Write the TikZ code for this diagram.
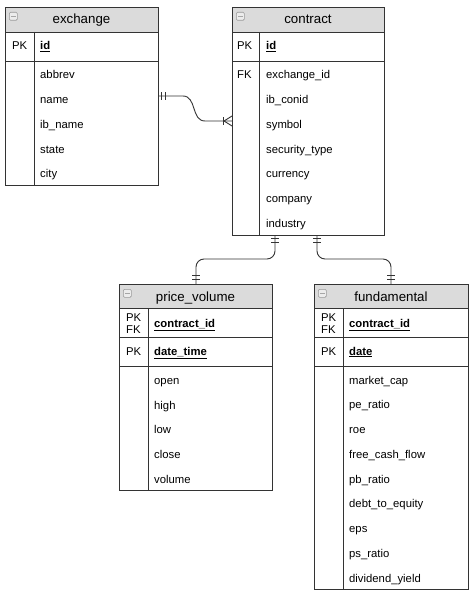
\documentclass[tikz,border=0pt]{standalone}
\usepackage{fontspec}
\setmainfont{Liberation Sans}
\newcommand{\fieldfont}{\fontsize{11.3}{13}\selectfont}
\newcommand{\titlefont}{\fontsize{13.3}{15}\selectfont}
\newcommand{\keyname}[1]{\textbf{\underline{#1}}}
\begin{document}
\begin{tikzpicture}[x=1pt,y=-1pt,
  tblbox/.style={draw=black!80, line width=0.9pt, inner sep=0pt, anchor=north west},
  hdrbox/.style={draw=black!80, line width=0.9pt, fill=gray!28, inner sep=0pt, anchor=north west},
  sepline/.style={draw=black!80, line width=0.9pt},
  fieldtxt/.style={anchor=base west, inner sep=0pt, font=\fieldfont},
  titletxt/.style={anchor=base, inner sep=0pt, font=\titlefont},
  conn/.style={draw=black!80, line width=0.9pt},
  barmark/.style={draw=black!80, line width=0.9pt},
  iconbox/.style={draw=gray!80, fill=gray!15, rounded corners=1.2pt, line width=0.6pt, minimum width=8, minimum height=8, inner sep=0pt, anchor=north west}
]
\useasboundingbox[fill=white] (0,0) rectangle (474,594);

% ---------- exchange ----------
\node[tblbox, minimum width=153, minimum height=178] (exchange) at (5,7) {};
\node[hdrbox, minimum width=153, minimum height=25] (exchangeh) at (5,7) {};
\node[iconbox] (exchangei) at (9,12) {};
\draw[gray!70, line width=0.7pt] ([xshift=-2.2]exchangei.center) -- ([xshift=2.2]exchangei.center);
\node[titletxt] (exchanget) at (81.5,24) {exchange};
\draw[sepline] (5,61) -- (158,61);
\draw[sepline] (34,32) -- (34,185);
\node[fieldtxt] (exchangepk) at (12,50) {PK};
\node[fieldtxt] (exchangeid) at (40,50) {\keyname{id}};
\node[fieldtxt] (exf1) at (40,78) {abbrev};
\node[fieldtxt] (exf2) at (40,103) {name};
\node[fieldtxt] (exf3) at (40,128) {ib\_name};
\node[fieldtxt] (exf4) at (40,153) {state};
\node[fieldtxt] (exf5) at (40,177) {city};

% ---------- contract ----------
\node[tblbox, minimum width=152, minimum height=228] (contract) at (232,7) {};
\node[hdrbox, minimum width=152, minimum height=25] (contracth) at (232,7) {};
\node[iconbox] (contracti) at (236,12) {};
\draw[gray!70, line width=0.7pt] ([xshift=-2.2]contracti.center) -- ([xshift=2.2]contracti.center);
\node[titletxt] (contractt) at (308,24) {contract};
\draw[sepline] (232,61) -- (384,61);
\draw[sepline] (259,32) -- (259,235);
\node[fieldtxt] (contractpk) at (237,50) {PK};
\node[fieldtxt] (contractid) at (266,50) {\keyname{id}};
\node[fieldtxt] (contractfk) at (237,78) {FK};
\node[fieldtxt] (cf1) at (266,78) {exchange\_id};
\node[fieldtxt] (cf2) at (266,103) {ib\_conid};
\node[fieldtxt] (cf3) at (266,128) {symbol};
\node[fieldtxt] (cf4) at (266,153) {security\_type};
\node[fieldtxt] (cf5) at (266,177) {currency};
\node[fieldtxt] (cf6) at (266,202) {company};
\node[fieldtxt] (cf7) at (266,227) {industry};

% ---------- price_volume ----------
\node[tblbox, minimum width=153, minimum height=206] (pv) at (119,284) {};
\node[hdrbox, minimum width=153, minimum height=24] (pvh) at (119,284) {};
\node[iconbox] (pvi) at (123,289) {};
\draw[gray!70, line width=0.7pt] ([xshift=-2.2]pvi.center) -- ([xshift=2.2]pvi.center);
\node[titletxt] (pvt) at (195.5,301) {price\_volume};
\draw[sepline] (119,337) -- (272,337);
\draw[sepline] (119,366) -- (272,366);
\draw[sepline] (148,308) -- (148,490);
\node[fieldtxt] (pvpk1) at (126,321) {PK};
\node[fieldtxt] (pvfk1) at (126,333) {FK};
\node[fieldtxt] (pvk1) at (154,327) {\keyname{contract\_id}};
\node[fieldtxt] (pvpk2) at (126,355) {PK};
\node[fieldtxt] (pvk2) at (154,355) {\keyname{date\_time}};
\node[fieldtxt] (pvf1) at (154,384) {open};
\node[fieldtxt] (pvf2) at (154,409) {high};
\node[fieldtxt] (pvf3) at (154,433) {low};
\node[fieldtxt] (pvf4) at (154,458) {close};
\node[fieldtxt] (pvf5) at (154,483) {volume};

% ---------- fundamental ----------
\node[tblbox, minimum width=154, minimum height=305] (fund) at (314,284) {};
\node[hdrbox, minimum width=154, minimum height=24] (fundh) at (314,284) {};
\node[iconbox] (fundi) at (318,289) {};
\draw[gray!70, line width=0.7pt] ([xshift=-2.2]fundi.center) -- ([xshift=2.2]fundi.center);
\node[titletxt] (fundt) at (391,301) {fundamental};
\draw[sepline] (314,337) -- (468,337);
\draw[sepline] (314,366) -- (468,366);
\draw[sepline] (343,308) -- (343,589);
\node[fieldtxt] (fpk1) at (321,321) {PK};
\node[fieldtxt] (ffk1) at (321,333) {FK};
\node[fieldtxt] (fk1) at (349,327) {\keyname{contract\_id}};
\node[fieldtxt] (fpk2) at (321,355) {PK};
\node[fieldtxt] (fk2) at (349,355) {\keyname{date}};
\node[fieldtxt] (ff1) at (349,384) {market\_cap};
\node[fieldtxt] (ff2) at (349,408) {pe\_ratio};
\node[fieldtxt] (ff3) at (349,433) {roe};
\node[fieldtxt] (ff4) at (349,458) {free\_cash\_flow};
\node[fieldtxt] (ff5) at (349,483) {pb\_ratio};
\node[fieldtxt] (ff6) at (349,507) {debt\_to\_equity};
\node[fieldtxt] (ff7) at (349,532) {eps};
\node[fieldtxt] (ff8) at (349,557) {ps\_ratio};
\node[fieldtxt] (ff9) at (349,582) {dividend\_yield};

% ---------- connectors ----------
% exchange -> contract
\coordinate (e1) at (exchange.north east |- 0,96);
\coordinate (c1) at (contract.north west |- 0,121);
\draw[conn] (e1) -- ++(24,0) .. controls +(14,0) and +(-14,0) .. ([xshift=-27]c1) -- (c1);
\draw[barmark] (e1) ++(3,-4) -- ++(0,8);
\draw[barmark] (e1) ++(7,-4) -- ++(0,8);
\draw[barmark] (c1) ++(-9,-4) -- ++(0,8);
\draw[conn] (c1) ++(-8,0) -- ++(8,-5);
\draw[conn] (c1) ++(-8,0) -- ++(8,5);

% contract -> price_volume
\coordinate (c2) at (contract.south west -| 275,0);
\coordinate (p2) at (pv.north west -| 196,0);
\draw[conn, rounded corners=8] (c2) -- (275,259) -- (196,259) -- (p2);
\draw[barmark] (c2) ++(-4,3) -- ++(8,0);
\draw[barmark] (c2) ++(-4,7) -- ++(8,0);
\draw[barmark] (p2) ++(-4,-5) -- ++(8,0);
\draw[barmark] (p2) ++(-4,-9) -- ++(8,0);

% contract -> fundamental
\coordinate (c3) at (contract.south west -| 317,0);
\coordinate (f3) at (fund.north west -| 391,0);
\draw[conn, rounded corners=8] (c3) -- (317,259) -- (391,259) -- (f3);
\draw[barmark] (c3) ++(-4,3) -- ++(8,0);
\draw[barmark] (c3) ++(-4,7) -- ++(8,0);
\draw[barmark] (f3) ++(-4,-5) -- ++(8,0);
\draw[barmark] (f3) ++(-4,-9) -- ++(8,0);
\end{tikzpicture}
\end{document}
